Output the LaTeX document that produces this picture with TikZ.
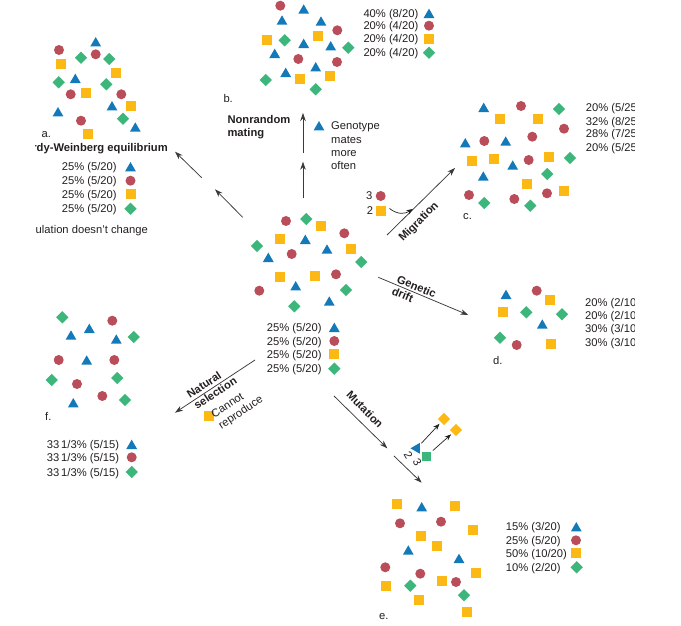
\documentclass[tikz,border=0pt]{standalone}
\usepackage{fontspec}
\setmainfont{Liberation Sans}
\usetikzlibrary{shapes.geometric,arrows.meta}
\definecolor{triblue}{HTML}{1479B8}
\definecolor{circred}{HTML}{B94D5A}
\definecolor{sqyellow}{HTML}{FDB913}
\definecolor{diagreen}{HTML}{3DB67B}
\definecolor{txtgray}{HTML}{231F20}
\definecolor{arrgray}{HTML}{3A3A3A}
\tikzset{
  tri/.style={regular polygon,regular polygon sides=3,fill=triblue,inner sep=0pt,minimum size=12.5pt,yshift=-1.6pt},
  circ/.style={circle,fill=circred,inner sep=0pt,minimum size=10pt},
  sq/.style={rectangle,fill=sqyellow,inner sep=0pt,minimum size=10pt},
  dia/.style={diamond,fill=diagreen,inner sep=0pt,minimum size=12.5pt},
  txt/.style={inner sep=0pt,text=txtgray,font=\fontsize{11.2}{13.2}\selectfont},
  btxt/.style={txt,font=\fontsize{11.2}{13}\selectfont\bfseries},
  flow/.style={draw=arrgray,line width=0.75pt,-{Stealth[length=8pt,width=5.5pt]}},
  smallflow/.style={draw=txtgray,line width=0.7pt,-{Stealth[length=6.5pt,width=5pt]}},
}
\begin{document}
\begin{tikzpicture}[x=1pt,y=-1pt]
  \useasboundingbox (0,0) rectangle (681,626);
  \clip (35,0) rectangle (634,626);

  % starting population
  \foreach \p [count=\i] in {(305.3,239.3),(327,249),(268.3,257.3),(295.7,285.7),(329.3,301)}
    \node[tri] (o-tri-\i) at \p {};
  \foreach \p [count=\i] in {(286,221),(344.3,233.3),(291.7,254),(336,274.3),(259.3,290.7)}
    \node[circ] (o-circ-\i) at \p {};
  \foreach \p [count=\i] in {(320.7,226),(280.3,239.3),(351,249),(279.7,277.3),(315,276.3)}
    \node[sq] (o-sq-\i) at \p {};
  \foreach \p [count=\i] in {(306.3,219),(257,246),(361.3,262),(346,290),(294.3,306.3)}
    \node[dia] (o-dia-\i) at \p {};
  \node[txt,anchor=base west] (o-l1) at (266.7,331.3) {25\% (5/20)};
  \node[txt,anchor=base west] (o-l2) at (266.7,345) {25\% (5/20)};
  \node[txt,anchor=base west] (o-l3) at (266.7,358.3) {25\% (5/20)};
  \node[txt,anchor=base west] (o-l4) at (266.7,372.7) {25\% (5/20)};
  \node[tri] (o-k1) at (334.3,327.3) {};
  \node[circ] (o-k2) at (334.3,341) {};
  \node[sq] (o-k3) at (334.3,354.3) {};
  \node[dia] (o-k4) at (334.3,368.7) {};

  % a. Hardy-Weinberg
  \foreach \p [count=\i] in {(95.7,41.7),(75.3,78.3),(58,111.7),(112,105.7),(135.3,127)}
    \node[tri] (a-tri-\i) at \p {};
  \foreach \p [count=\i] in {(59,50),(95.7,54.3),(70.7,94.3),(121.3,94.3),(81,120.7)}
    \node[circ] (a-circ-\i) at \p {};
  \foreach \p [count=\i] in {(61.3,64),(116.3,73.3),(85.7,93.3),(131.3,105.7),(88,134.3)}
    \node[sq] (a-sq-\i) at \p {};
  \foreach \p [count=\i] in {(81,57.7),(109.3,59),(58.7,82.3),(106.3,84.3),(123,118.7)}
    \node[dia] (a-dia-\i) at \p {};
  \node[txt,anchor=base west] (a-name) at (41.4,138) {a.};
  \node[btxt,anchor=base east] (a-title) at (168,151.7) {Hardy-Weinberg equilibrium};
  \node[txt,anchor=base west] (a-l1) at (61.7,170.7) {25\% (5/20)};
  \node[txt,anchor=base west] (a-l2) at (61.7,184.7) {25\% (5/20)};
  \node[txt,anchor=base west] (a-l3) at (61.7,198.3) {25\% (5/20)};
  \node[txt,anchor=base west] (a-l4) at (61.7,212.7) {25\% (5/20)};
  \node[tri] (a-k1) at (130.5,166.7) {};
  \node[circ] (a-k2) at (130.5,180.7) {};
  \node[sq] (a-k3) at (130.5,194.3) {};
  \node[dia] (a-k4) at (130.5,208.7) {};
  \node[txt,anchor=base east] (a-note) at (148,233.3) {Population doesn't change};

  % b. nonrandom mating
  \foreach \p [count=\i] in {(303.7,9),(282,20),(321,21),(303.7,43.3),(330.7,45.7),(274.7,53.3),(315.7,66.7),(285.7,72.3)}
    \node[tri] (b-tri-\i) at \p {};
  \foreach \p [count=\i] in {(280.3,5.7),(337.3,30.3),(298.3,59),(337,62)}
    \node[circ] (b-circ-\i) at \p {};
  \foreach \p [count=\i] in {(266.7,40.3),(317.7,36),(330.3,76),(299.7,79)}
    \node[sq] (b-sq-\i) at \p {};
  \foreach \p [count=\i] in {(284.7,40.3),(348.3,47.7),(265.7,80),(315.7,89.3)}
    \node[dia] (b-dia-\i) at \p {};
  \node[txt,anchor=base west] (b-name) at (223.3,102.3) {b.};
  \node[txt,anchor=base west] (b-l1) at (363.3,17.3) {40\% (8/20)};
  \node[txt,anchor=base west] (b-l2) at (363.3,29.7) {20\% (4/20)};
  \node[txt,anchor=base west] (b-l3) at (363.3,43) {20\% (4/20)};
  \node[txt,anchor=base west] (b-l4) at (363.3,56.7) {20\% (4/20)};
  \node[tri] (b-k1) at (429,13.3) {};
  \node[circ] (b-k2) at (429,25.7) {};
  \node[sq] (b-k3) at (429,39) {};
  \node[dia] (b-k4) at (429,52.7) {};
  \node[btxt,anchor=north west,align=left] (b-title) at (227.3,115) {Nonrandom\\mating};
  \node[tri] (b-geno) at (319,125.7) {};
  \node[txt,anchor=north west,align=left,font=\fontsize{11.2}{13.3}\selectfont] (b-note) at (331,121.8) {Genotype\\mates\\more\\often};

  % c. migration
  \foreach \p [count=\i] in {(483.7,107.3),(465.3,142.7),(505.7,141),(512.7,165),(483.3,176)}
    \node[tri] (c-tri-\i) at \p {};
  \foreach \p [count=\i] in {(521,106),(564,128.7),(484.3,141),(532.3,136.7),(528.7,160),(469,195),(514.3,199),(547,193.3)}
    \node[circ] (c-circ-\i) at \p {};
  \foreach \p [count=\i] in {(500,119.3),(538.3,119.3),(472.3,160.7),(494,159.3),(549,157),(527,184.3),(564.3,191)}
    \node[sq] (c-sq-\i) at \p {};
  \foreach \p [count=\i] in {(559,109),(570,158),(547.3,174),(484.3,203),(530.3,205.7)}
    \node[dia] (c-dia-\i) at \p {};
  \node[txt,anchor=base west] (c-name) at (463,219.6) {c.};
  \node[txt,anchor=base west] (c-l1) at (585.7,111.7) {20\% (5/25)};
  \node[txt,anchor=base west] (c-l2) at (585.7,125) {32\% (8/25)};
  \node[txt,anchor=base west] (c-l3) at (585.7,138) {28\% (7/25)};
  \node[txt,anchor=base west] (c-l4) at (585.7,151.3) {20\% (5/25)};
  \node[txt] (g-n3) at (369.3,196) {3};
  \node[circ] (g-circ) at (380.7,196) {};
  \node[txt] (g-n2) at (370,210.7) {2};
  \node[sq] (g-sq) at (380.7,210.7) {};
  \node[btxt,rotate=45] (c-title) at (419,222) {Migration};

  % d. genetic drift
  \foreach \p [count=\i] in {(506,294.3),(542.3,324)}
    \node[tri] (d-tri-\i) at \p {};
  \foreach \p [count=\i] in {(536.7,290.7),(516.7,345)}
    \node[circ] (d-circ-\i) at \p {};
  \foreach \p [count=\i] in {(550,300),(503,312.3),(551,344.3)}
    \node[sq] (d-sq-\i) at \p {};
  \foreach \p [count=\i] in {(526.3,312.3),(562,314.3),(500,337.7)}
    \node[dia] (d-dia-\i) at \p {};
  \node[txt,anchor=base west] (d-name) at (493,364.7) {d.};
  \node[txt,anchor=base west] (d-l1) at (585,306.3) {20\% (2/10)};
  \node[txt,anchor=base west] (d-l2) at (585,319) {20\% (2/10)};
  \node[txt,anchor=base west] (d-l3) at (585,332.3) {30\% (3/10)};
  \node[txt,anchor=base west] (d-l4) at (585,346) {30\% (3/10)};
  \node[btxt,rotate=-22.7,align=left] (d-title) at (414.2,292.5) {Genetic\\drift};

  % e. mutation
  \foreach \p [count=\i] in {(421.7,506.7),(408.3,550),(459,558.3)}
    \node[tri] (e-tri-\i) at \p {};
  \foreach \p [count=\i] in {(400,523.3),(441,521.7),(385.3,567.3),(420.3,573.7),(456,582)}
    \node[circ] (e-circ-\i) at \p {};
  \foreach \p [count=\i] in {(396.7,504.3),(455.3,505.7),(473,530),(421,536),(437,545.7),(476,573.3),(385.7,586),(442,581),(419,600),(466.7,612)}
    \node[sq] (e-sq-\i) at \p {};
  \foreach \p [count=\i] in {(410.3,585.7),(464,595.3)}
    \node[dia] (e-dia-\i) at \p {};
  \node[txt,anchor=base west] (e-name) at (379,619.6) {e.};
  \node[txt,anchor=base west] (e-l1) at (505.7,530.7) {15\% (3/20)};
  \node[txt,anchor=base west] (e-l2) at (505.7,544.3) {25\% (5/20)};
  \node[txt,anchor=base west] (e-l3) at (505.7,557.3) {50\% (10/20)};
  \node[txt,anchor=base west] (e-l4) at (505.7,571.3) {10\% (2/20)};
  \node[tri] (e-k1) at (576.3,526.7) {};
  \node[circ] (e-k2) at (576,540.3) {};
  \node[sq] (e-k3) at (576,553.3) {};
  \node[dia] (e-k4) at (576.7,567.3) {};
  \node[btxt,rotate=-46] (e-title) at (365,409.3) {Mutation};
  \node[tri,rotate=-30] (m-tri) at (416.7,446.7) {};
  \node[sq,fill=diagreen,minimum size=9pt] (m-sq) at (426.7,456) {};
  \node[dia,fill=sqyellow] (m-dia-1) at (444,419) {};
  \node[dia,fill=sqyellow] (m-dia-2) at (456,430) {};
  \node[txt,rotate=-60] (m-n2) at (408.3,455) {2};
  \node[txt,rotate=-60] (m-n3) at (417.3,462.7) {3};

  % f. natural selection
  \foreach \p [count=\i] in {(89.3,328.3),(71,335),(116.3,339),(86.7,360),(73.3,402.7)}
    \node[tri] (f-tri-\i) at \p {};
  \foreach \p [count=\i] in {(112.3,320.7),(58.7,360),(114.3,360),(77,384),(102.3,396)}
    \node[circ] (f-circ-\i) at \p {};
  \foreach \p [count=\i] in {(62.3,317.3),(133.7,337),(51.7,380),(117.3,378),(125,400)}
    \node[dia] (f-dia-\i) at \p {};
  \node[txt,anchor=base west] (f-name) at (45,420) {f.};
  \node[txt,anchor=base west] (f-l1) at (46.7,448.3) {33\,1/3\% (5/15)};
  \node[txt,anchor=base west] (f-l2) at (46.7,461.3) {33\,1/3\% (5/15)};
  \node[txt,anchor=base west] (f-l3) at (46.7,476) {33\,1/3\% (5/15)};
  \node[tri] (f-k1) at (131.7,444.3) {};
  \node[circ] (f-k2) at (131.7,457.3) {};
  \node[dia] (f-k3) at (131.7,472) {};
  \node[btxt,rotate=33.4,align=left] (f-title) at (211.7,387.5) {Natural\\selection};
  \node[sq] (f-sq) at (209.3,416) {};
  \node[txt,rotate=33.4,align=left,font=\fontsize{11.2}{13}\selectfont] (f-note) at (237.5,407.5) {Cannot\\reproduce};

  % connectors
  \coordinate (oa1) at (242.7,217.3); \coordinate (oa2) at (215,189.3);
  \coordinate (oa3) at (201.7,177.7); \coordinate (oa4) at (175,151.7);
  \coordinate (ob1) at (303,198);     \coordinate (ob2) at (303,161.7);
  \coordinate (ob3) at (303,153);     \coordinate (ob4) at (303,113);
  \coordinate (oc1) at (387,235);     \coordinate (oc2) at (455,168);
  \coordinate (gc1) at (389.5,208.5); \coordinate (gc2) at (413,209);
  \coordinate (od1) at (378.3,277.3); \coordinate (od2) at (468.3,315);
  \coordinate (oe1) at (334,396);     \coordinate (oe2) at (387.3,448.3);
  \coordinate (oe3) at (394,456);     \coordinate (oe4) at (421.7,482.7);
  \coordinate (of1) at (255,360);     \coordinate (of2) at (175,412.7);
  \draw[flow] (oa1) -- (oa2);
  \draw[flow] (oa3) -- (oa4);
  \draw[flow] (ob1) -- (ob2);
  \draw[flow] (ob3) -- (ob4);
  \draw[flow] (oc1) -- (oc2);
  \draw[smallflow] (gc1) .. controls (398,215) and (405,214) .. (gc2);
  \draw[flow] (od1) -- (od2);
  \draw[flow] (oe1) -- (oe2);
  \draw[flow] (oe3) -- (oe4);
  \draw[flow] (of1) -- (of2);
  \draw[smallflow,shorten <=2pt,shorten >=2pt] (m-tri) -- (m-dia-1);
  \draw[smallflow,shorten <=2pt,shorten >=2pt] (m-sq) -- (m-dia-2);
\end{tikzpicture}
\end{document}
